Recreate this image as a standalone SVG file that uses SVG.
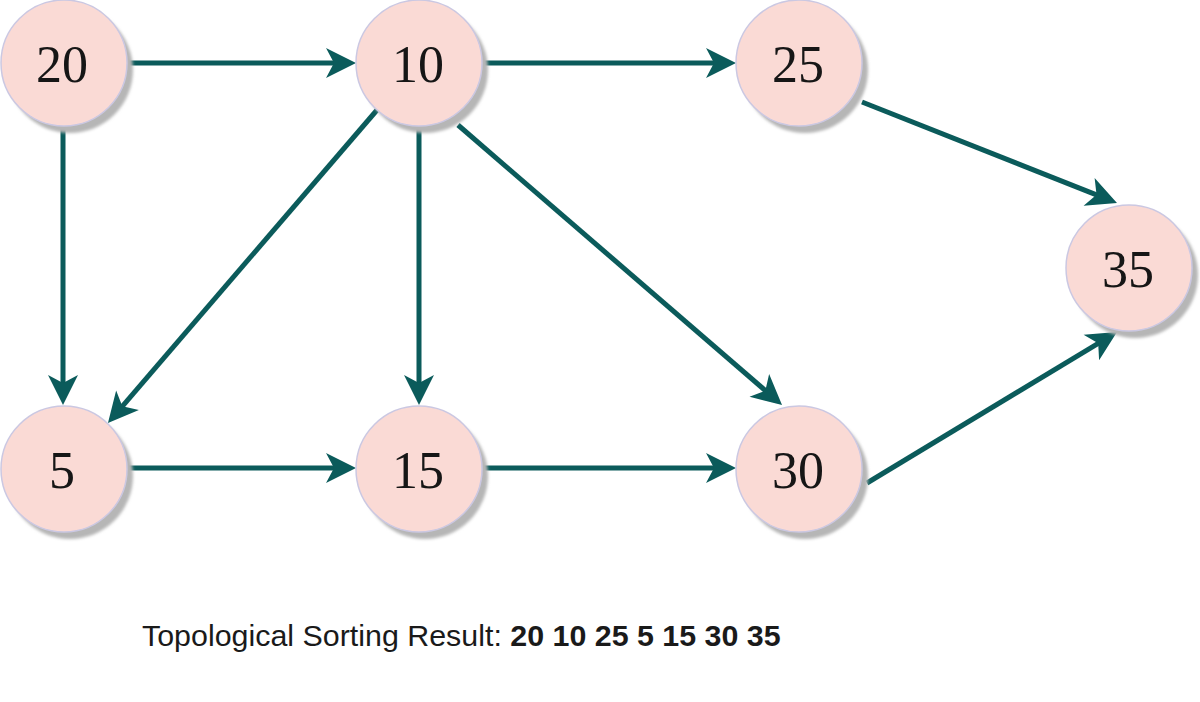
<svg xmlns="http://www.w3.org/2000/svg" width="1200" height="702" viewBox="0 0 1200 702">
  <style>
    .shadow { fill: #b6b6b6; filter: url(#blur); }
    .disc { fill: #fadad5; stroke: #cbc8e2; stroke-width: 1.5; }
    .label { font-family: "Liberation Serif", "Times New Roman", serif; font-size: 52px; fill: #161616; text-anchor: middle; }
    .edge { stroke: #0b5b5b; stroke-width: 5; fill: none; marker-end: url(#arrow); }
    .caption { font-family: "Liberation Sans", Arial, sans-serif; font-size: 30.4px; fill: #1a1a1a; }
  </style>
  <defs>
    <filter id="blur" x="-20%" y="-20%" width="140%" height="140%">
      <feGaussianBlur stdDeviation="1.5"/>
    </filter>
    <marker id="arrow" markerUnits="userSpaceOnUse" markerWidth="32" markerHeight="32" refX="10" refY="16" orient="auto" overflow="visible">
      <path d="M30,16 L0,1 L8,16 L0,31 Z" fill="#0b5b5b"/>
    </marker>
  </defs>
  <rect width="1200" height="702" fill="#ffffff"/>

  <g id="connectors">
    <line class="edge" x1="128" y1="63" x2="336" y2="63"/>
    <line class="edge" x1="63" y1="127" x2="63" y2="385"/>
    <line class="edge" x1="483" y1="63" x2="716" y2="63"/>
    <line class="edge" x1="377" y1="110" x2="121" y2="407.8"/>
    <line class="edge" x1="419" y1="127" x2="419" y2="385"/>
    <line class="edge" x1="458" y1="125" x2="766.9" y2="391.9"/>
    <line class="edge" x1="862" y1="102" x2="1098.4" y2="195.6"/>
    <line class="edge" x1="128" y1="468" x2="336" y2="468"/>
    <line class="edge" x1="483" y1="468" x2="716" y2="468"/>
    <line class="edge" x1="867" y1="483" x2="1099.9" y2="342.3"/>
  </g>

  <g id="node-20">
    <circle class="shadow" cx="70" cy="70" r="63"/>
    <circle class="disc" cx="64" cy="63" r="63"/>
    <text class="label" x="62" y="82">20</text>
  </g>
  <g id="node-10">
    <circle class="shadow" cx="425" cy="70" r="63"/>
    <circle class="disc" cx="419" cy="63" r="63"/>
    <text class="label" x="418" y="82">10</text>
  </g>
  <g id="node-25">
    <circle class="shadow" cx="805" cy="70" r="63"/>
    <circle class="disc" cx="799" cy="63" r="63"/>
    <text class="label" x="798" y="82">25</text>
  </g>
  <g id="node-35">
    <circle class="shadow" cx="1135" cy="275" r="63"/>
    <circle class="disc" cx="1129" cy="268" r="63"/>
    <text class="label" x="1128" y="287">35</text>
  </g>
  <g id="node-5">
    <circle class="shadow" cx="70" cy="476" r="63"/>
    <circle class="disc" cx="64" cy="469" r="63"/>
    <text class="label" x="62" y="488">5</text>
  </g>
  <g id="node-15">
    <circle class="shadow" cx="425" cy="476" r="63"/>
    <circle class="disc" cx="419" cy="469" r="63"/>
    <text class="label" x="418" y="488">15</text>
  </g>
  <g id="node-30">
    <circle class="shadow" cx="805" cy="476" r="63"/>
    <circle class="disc" cx="799" cy="469" r="63"/>
    <text class="label" x="798" y="488">30</text>
  </g>

  <text class="caption" x="142" y="646">Topological Sorting Result: <tspan font-weight="bold">20 10 25 5 15 30 35</tspan></text>
</svg>
